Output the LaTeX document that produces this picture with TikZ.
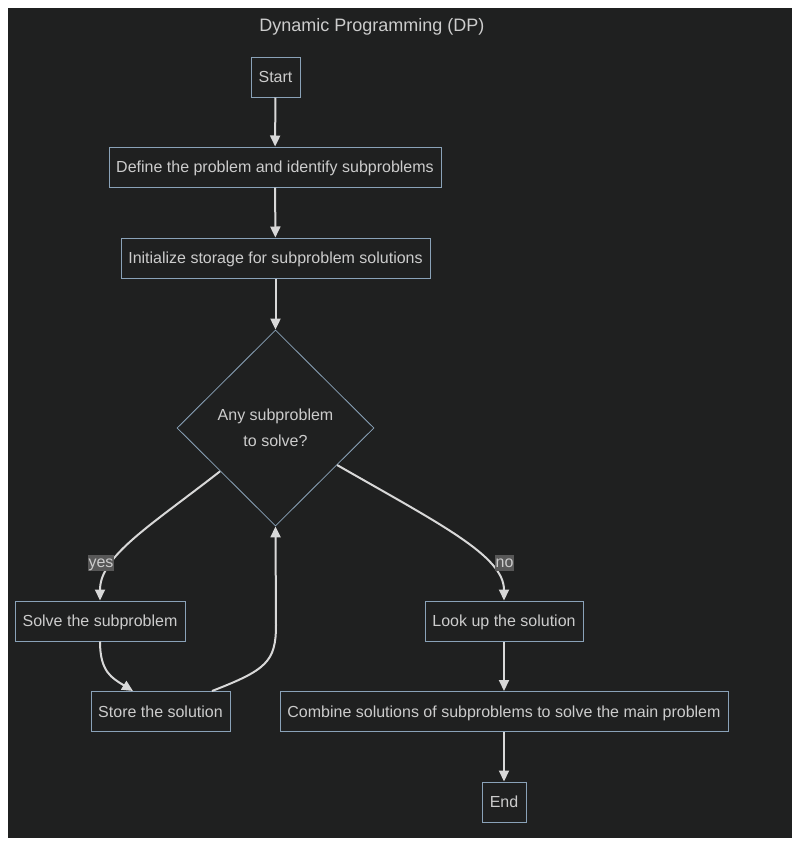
\documentclass[tikz,border=0pt]{standalone}
\usepackage{fontspec}
\setmainfont{Liberation Sans}
\usetikzlibrary{shapes.geometric,arrows.meta}
\definecolor{bgc}{HTML}{1F2020}
\definecolor{bordc}{HTML}{8AA2B8}
\definecolor{txtc}{HTML}{CCCCCC}
\definecolor{edgec}{HTML}{D8D8D8}
\definecolor{lblbg}{HTML}{585858}
\tikzset{
  box/.style={draw=bordc, line width=1pt, fill=bgc, text=txtc, minimum height=40pt, inner sep=0pt, text height=12.5pt, text depth=1.5pt, font=\fontsize{16}{19}\selectfont},
  decbox/.style={diamond, aspect=1, draw=bordc, line width=0.8pt, fill=bgc, text=txtc, inner sep=0pt, minimum width=197pt, minimum height=196pt, align=center, font=\fontsize{16}{26}\selectfont},
  conn/.style={draw=edgec, line width=2pt, -{Triangle[length=11pt,width=10pt]}},
  lbl/.style={fill=lblbg, text=txtc, inner xsep=1pt, inner ysep=0pt, text height=12.5pt, text depth=3.5pt, font=\fontsize{16}{19}\selectfont}
}
\begin{document}
\begin{tikzpicture}[x=1pt,y=-1pt]
\useasboundingbox (0,0) rectangle (800,847);
\fill[white] (0,0) rectangle (800,847);
\fill[bgc] (8,8) rectangle (792,838);
\node[text=txtc, font=\fontsize{18}{22}\selectfont] (title) at (372,27) {Dynamic Programming (DP)};
\node[box, minimum width=49pt] (start) at (275.5,77) {Start};
\node[box, minimum width=332pt] (define) at (275,167) {Define the problem and identify subproblems};
\node[box, minimum width=309pt] (init) at (275.5,258) {Initialize storage for subproblem solutions};
\node[decbox] (dec) at (275.5,428) {Any subproblem\\to solve?};
\node[box, minimum width=170pt] (solve) at (100,621) {Solve the subproblem};
\node[box, minimum width=158pt] (look) at (504,621) {Look up the solution};
\node[box, minimum width=139pt] (store) at (160.5,711.5) {Store the solution};
\node[box, minimum width=448pt] (comb) at (504,711.5) {Combine solutions of subproblems to solve the main problem};
\node[box, minimum width=44pt] (end) at (504,802) {End};

\draw[conn] (start) -- (define);
\draw[conn] (define) -- (init);
\draw[conn] (init) -- (dec);
\draw[conn] (dec.218) .. controls (150,526) and (100,556) .. (solve.north);
\draw[conn] (dec.-31) .. controls (440,524) and (504,556) .. (look.north);
\draw[conn] (solve.south) .. controls (100,672) and (112,678) .. ([xshift=-27.5pt]store.north);
\draw[conn] ([xshift=51.5pt]store.north) .. controls (266,670) and (276,662) .. (276,625) -- (dec.south);
\draw[conn] (look) -- (comb);
\draw[conn] (comb) -- (end);

\node[lbl] (yes) at (101,563) {yes};
\node[lbl] (no) at (504.5,563) {no};
\end{tikzpicture}
\end{document}
